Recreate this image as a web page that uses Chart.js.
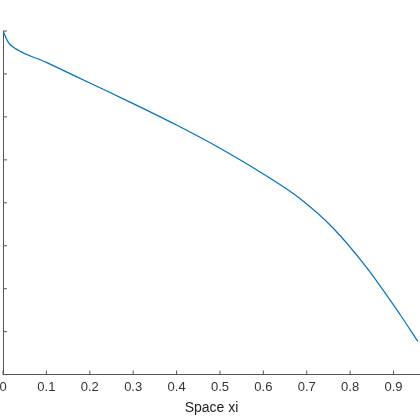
<!DOCTYPE html>
<html>
<head>
<script src="https://cdn.jsdelivr.net/npm/chart.js@4"></script>
<style>
  html, body { margin: 0; padding: 0; background: #fff; overflow: hidden; }
  #wrap { position: absolute; left: -20px; top: 0; width: 440px; height: 420px; }
</style>
</head>
<body>
<div id="wrap"><canvas id="c"></canvas></div>
<script>
const xs = [0, 0.012, 0.02, 0.1, 0.2, 0.3, 0.4, 0.5, 0.6, 0.684, 0.76, 0.839, 0.915, 0.956];
const ys = [8.0, 7.74, 7.65, 7.27, 6.79, 6.31, 5.81, 5.27, 4.67, 4.10, 3.42, 2.48, 1.40, 0.77];
const xTicks = [0, 0.1, 0.2, 0.3, 0.4, 0.5, 0.6, 0.7, 0.8, 0.9];

document.addEventListener('DOMContentLoaded', function () {
    const ctx = document.getElementById('c').getContext('2d');
    new Chart(ctx, {
        type: 'line',
        data: {
            datasets: [{
                data: xs.map((x, i) => ({ x: x, y: ys[i] })),
                borderColor: '#0072bd',
                borderWidth: 1.2,
                pointRadius: 0,
                cubicInterpolationMode: 'monotone',
                fill: false
            }]
        },
        options: {
            animation: false,
            responsive: true,
            maintainAspectRatio: false,
            layout: { padding: { top: 31, right: 0, bottom: 0, left: 0 } },
            plugins: { legend: { display: false }, tooltip: { enabled: false } },
            scales: {
                x: {
                    type: 'linear', min: 0, max: 0.961,
                    afterBuildTicks: axis => { axis.ticks = xTicks.map(v => ({ value: v })); },
                    grid: { display: false, drawTicks: false },
                    border: { color: '#555', width: 1 },
                    ticks: { color: '#333', font: { family: 'Arial', size: 13 }, padding: 5,
                             maxRotation: 0, callback: v => String(v) },
                    title: { display: true, text: 'Space xi', color: '#222',
                             font: { family: 'Arial', size: 14 }, padding: { top: 0, bottom: 3 } }
                },
                y: {
                    min: 0, max: 8,
                    afterFit: axis => { axis.width = 23; },
                    grid: { display: false, drawTicks: false },
                    border: { color: '#555', width: 1 },
                    ticks: { display: false, stepSize: 1 }
                }
            }
        },
        plugins: [{
            id: 'innerTicks',
            afterDraw(chart) {
                const c = chart.ctx, a = chart.chartArea;
                const sx = chart.scales.x, sy = chart.scales.y;
                c.save();
                c.strokeStyle = '#555';
                c.lineWidth = 1;
                c.beginPath();
                xTicks.forEach(v => { const p = sx.getPixelForValue(v); c.moveTo(p, a.bottom); c.lineTo(p, a.bottom - 4); });
                for (let v = 0; v <= 8; v++) { const p = sy.getPixelForValue(v); c.moveTo(a.left, p); c.lineTo(a.left + 4, p); }
                c.stroke();
                c.restore();
            }
        }]
    });
});
</script>
</body>
</html>
